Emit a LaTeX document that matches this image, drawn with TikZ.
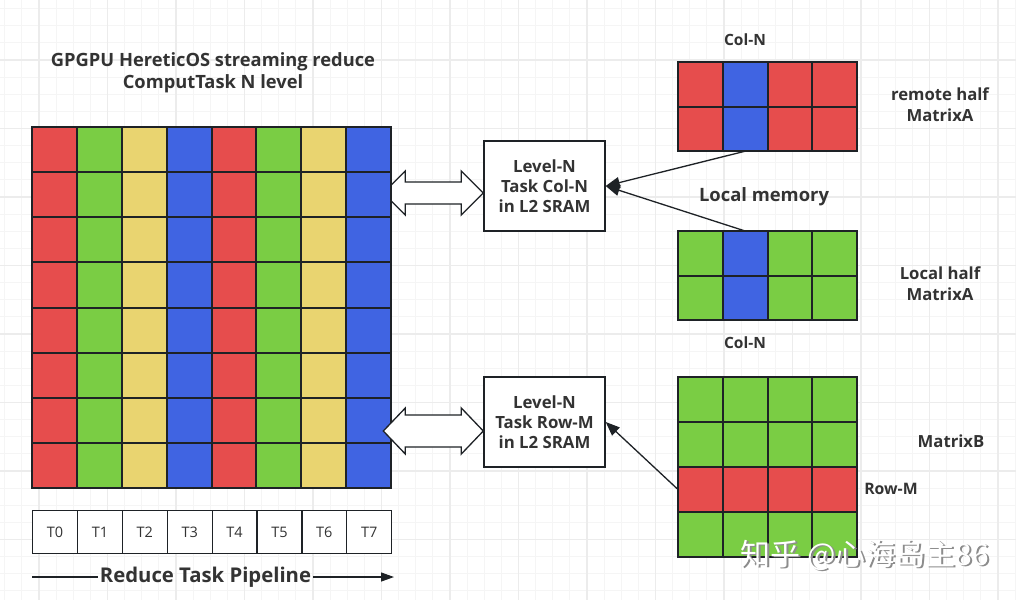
\documentclass[tikz,border=0pt]{standalone}
\usepackage{fontspec}
\setmainfont{Open Sans}
\newfontfamily\cjk{Noto Sans CJK SC}
\usetikzlibrary{arrows.meta,calc}
\definecolor{cred}{RGB}{230,77,77}
\definecolor{cgreen}{RGB}{122,205,68}
\definecolor{cyellow}{RGB}{233,212,112}
\definecolor{cblue}{RGB}{64,100,226}
\definecolor{cline}{RGB}{30,34,38}
\definecolor{ctext}{RGB}{51,51,51}
\definecolor{gminor}{RGB}{245,245,245}
\definecolor{gmajor}{RGB}{236,236,236}
\tikzset{
  cell/.style={draw=cline, line width=2pt, inner sep=0pt, outer sep=0pt, anchor=north west},
  bigcell/.style={cell, minimum width=44.875pt, minimum height=45.125pt},
  smallcell/.style={cell, minimum width=44.75pt, minimum height=44.6pt},
  tcell/.style={draw=cline, line width=1.3pt, fill=white, inner sep=0pt, anchor=north west,
    minimum width=44.875pt, minimum height=43pt, font=\fontsize{14.5}{16}\selectfont, text=ctext},
  membox/.style={draw=cline, line width=1.4pt, fill=white, minimum width=121pt, minimum height=90pt,
    align=center, font=\bfseries\fontsize{16.8}{20}\selectfont, text=ctext, inner sep=0pt},
  lbl/.style={font=\bfseries\fontsize{16.7}{21}\selectfont, text=ctext, align=center, inner sep=0pt},
  small/.style={font=\bfseries\fontsize{15.5}{16}\selectfont, text=ctext, inner sep=0pt},
  conn/.style={draw=cline, line width=1.3pt, -{Triangle[length=14pt,width=11pt]}},
  blockarrow/.style={draw=cline, line width=1.3pt, fill=white, line join=miter},
}
\begin{document}
\begin{tikzpicture}[x=1pt,y=-1pt]
\useasboundingbox (0,0) rectangle (1016,600);
\fill[white] (0,0) rectangle (1016,600);
% background grid
\foreach \i in {0,...,59} {
  \draw[gminor, line width=1pt] ({4.75+17.125*\i},0) -- ({4.75+17.125*\i},600);
}
\foreach \i in {0,...,35} {
  \draw[gminor, line width=1pt] (0,{8.625+17.125*\i}) -- (1016,{8.625+17.125*\i});
}
\foreach \i in {0,...,14} {
  \draw[gmajor, line width=1.2pt] ({39.0+68.5*\i},0) -- ({39.0+68.5*\i},600);
}
\foreach \i in {0,...,8} {
  \draw[gmajor, line width=1.2pt] (0,{60+68.5*\i}) -- (1016,{60+68.5*\i});
}

% title
\node[lbl, font=\bfseries\fontsize{18.3}{22}\selectfont] (title) at (213,73) {GPGPU HereticOS streaming reduce\\ComputTask N level};

% memory boxes
\node[membox] (box1) at (544.5,186) {Level-N\\Task Col-N\\in L2 SRAM};
\node[membox] (box2) at (544.5,422) {Level-N\\Task Row-M\\in L2 SRAM};

% block arrow 1 (under the grid)
\coordinate (y1) at (0,193);
\coordinate (a1R) at (box1.west |- y1);
\coordinate (a1L) at ($(a1R)+(-100,0)$);
\draw[blockarrow] (a1L) -- ++(22,-22) -- ++(0,11) -- ($(a1R)+(-22,-11)$) -- ++(0,-11) -- (a1R)
  -- ++(-22,22) -- ++(0,-11) -- ($(a1L)+(22,11)$) -- ++(0,11) -- cycle;

% big grid
\foreach \c/\col in {0/cred,1/cgreen,2/cyellow,3/cblue,4/cred,5/cgreen,6/cyellow,7/cblue} {
  \foreach \r in {0,...,7} {
    \node[bigcell, fill=\col] (g-\r-\c) at ({32+44.875*\c},{127+45.125*\r}) {};
  }
}

% block arrow 2 (over the grid)
\coordinate (y2) at (0,431);
\coordinate (a2R) at (box2.west |- y2);
\coordinate (a2L) at ($(a2R)+(-100,0)$);
\draw[blockarrow] (a2L) -- ++(22,-23) -- ++(0,7) -- ($(a2R)+(-22,-16)$) -- ++(0,-7) -- (a2R)
  -- ++(-22,23) -- ++(0,-7) -- ($(a2L)+(22,16)$) -- ++(0,7) -- cycle;

% task cells
\foreach \c in {0,...,7} {
  \node[tcell] (t-\c) at ({32+44.875*\c},510) {T\c};
}

% pipeline
\node[lbl, font=\bfseries\fontsize{20.3}{22}\selectfont, inner xsep=2pt] (pipe) at (205.5,577) {Reduce Task Pipeline};
\coordinate (pS) at (32,577);
\coordinate (pE) at (394,577);
\draw[cline, line width=1.3pt] (pS) -- (pipe.west);
\draw[cline, line width=1.3pt, -{Triangle[length=13pt,width=9pt]}] (pipe.east) -- (pE);

% remote half MatrixA
\foreach \c/\col in {0/cred,1/cblue,2/cred,3/cred} {
  \foreach \r in {0,1} {
    \node[smallcell, fill=\col] (ra-\r-\c) at ({678+44.75*\c},{62+44.6*\r}) {};
  }
}
% local half MatrixA
\foreach \c/\col in {0/cgreen,1/cblue,2/cgreen,3/cgreen} {
  \foreach \r in {0,1} {
    \node[smallcell, fill=\col] (la-\r-\c) at ({678+44.75*\c},{231+44.6*\r}) {};
  }
}
% MatrixB
\foreach \r/\col in {0/cgreen,1/cgreen,2/cred,3/cgreen} {
  \foreach \c in {0,...,3} {
    \node[smallcell, minimum height=45pt, fill=\col] (mb-\r-\c) at ({678+44.75*\c},{377+45*\r}) {};
  }
}

% labels
\node[small] (coln1) at (745,40) {Col-N};
\node[small] (coln2) at (745,343) {Col-N};
\node[lbl] (remote) at (940,105) {remote half\\MatrixA};
\node[lbl] (localh) at (940,283.5) {Local half\\MatrixA};
\node[lbl, font=\bfseries\fontsize{18.4}{21}\selectfont] (localmem) at (764,197) {Local memory};
\node[lbl] (matb) at (951,441) {MatrixB};
\node[small, font=\bfseries\fontsize{15.8}{16}\selectfont] (rowm) at (891,489) {Row-M};

% connectors
\draw[conn] (ra-1-1.south) -- (box1.east);
\draw[conn] (la-0-1.north) -- (box1.east);
\draw[conn] (mb-2-0.west) -- (box2.east);

% watermark
\node[font=\cjk\fontsize{30}{32}\selectfont, text=black!45, inner sep=0pt] (wmshadow) at (866.5,556.5) {知乎 @心海岛主86};
\node[font=\cjk\fontsize{30}{32}\selectfont, text=white, inner sep=0pt] (wm) at (865,555) {知乎 @心海岛主86};
\end{tikzpicture}
\end{document}
